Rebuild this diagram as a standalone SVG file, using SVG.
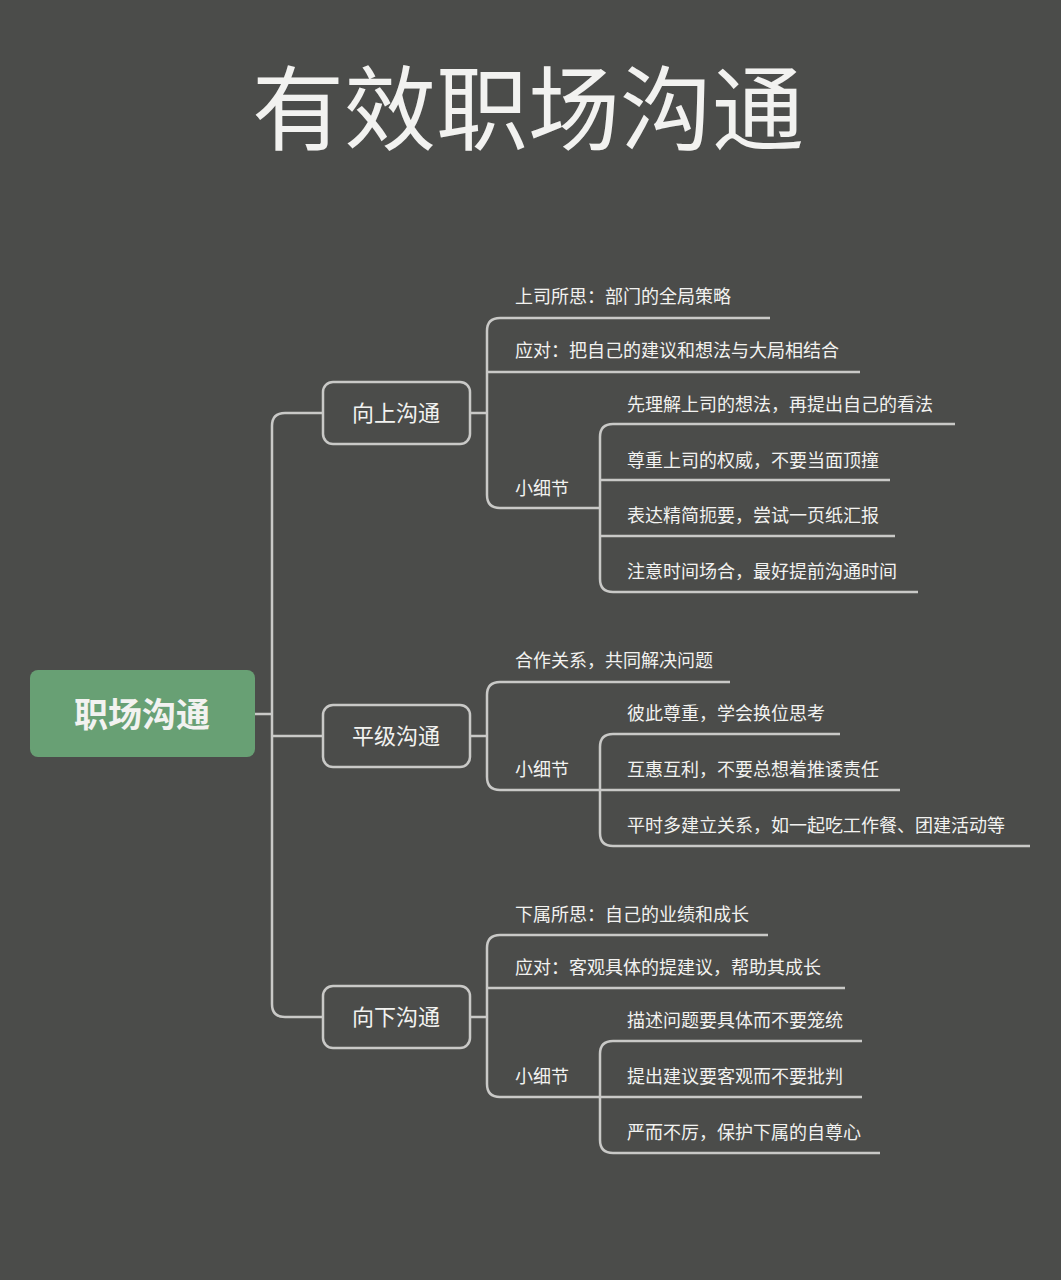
<svg xmlns="http://www.w3.org/2000/svg" width="1061" height="1280" viewBox="0 0 1061 1280">
<style>
.c{fill:none;stroke:#c9c9c7;stroke-width:2.5}
.t{font-family:"Noto Sans CJK SC",sans-serif;fill:#f2f2f0}
.l{font-size:18px}
.b{font-size:22px}
.br{fill:#4b4c4a;stroke:#c9c9c7;stroke-width:2.5}
</style>
<rect width="1061" height="1280" fill="#4b4c4a"/>
<text class="t" x="528" y="143" text-anchor="middle" font-size="92">有效职场沟通</text>
<g id="connectors" class="c">
<path d="M255 714H272M323 413H285Q272 413 272 426V1004Q272 1017 285 1017H323M272 736H323"/>
<path d="M470 413H487M770 318H500Q487 318 487 331V495Q487 508 500 508H600M487 372H860"/>
<path d="M955 424H613Q600 424 600 437V579Q600 592 613 592H918M600 480H890M600 536H895"/>
<path d="M470 736H487M730 682H500Q487 682 487 695V777Q487 790 500 790H600"/>
<path d="M840 734H613Q600 734 600 747V833Q600 846 613 846H1030M600 790H900"/>
<path d="M470 1017H487M768 935H500Q487 935 487 948V1084Q487 1097 500 1097H600M487 988H845"/>
<path d="M862 1041H613Q600 1041 600 1054V1140Q600 1153 613 1153H880M600 1097H862"/>
</g>
<g id="root"><rect x="30" y="670" width="225" height="87" rx="8" fill="#68a074"/><text class="t" x="142" y="727" text-anchor="middle" font-size="34" font-weight="bold">职场沟通</text></g>
<g id="up"><rect class="br" x="323" y="382" width="147" height="62" rx="10"/><text class="t b" x="396" y="421" text-anchor="middle">向上沟通</text></g>
<g id="peer"><rect class="br" x="323" y="705" width="147" height="62" rx="10"/><text class="t b" x="396" y="744" text-anchor="middle">平级沟通</text></g>
<g id="down"><rect class="br" x="323" y="986" width="147" height="62" rx="10"/><text class="t b" x="396" y="1025" text-anchor="middle">向下沟通</text></g>
<g id="leaves" class="t l">
<text x="515" y="303">上司所思：部门的全局策略</text>
<text x="515" y="357">应对：把自己的建议和想法与大局相结合</text>
<text x="515" y="495">小细节</text>
<text x="627" y="411">先理解上司的想法，再提出自己的看法</text>
<text x="627" y="467">尊重上司的权威，不要当面顶撞</text>
<text x="627" y="522">表达精简扼要，尝试一页纸汇报</text>
<text x="627" y="578">注意时间场合，最好提前沟通时间</text>
<text x="515" y="667">合作关系，共同解决问题</text>
<text x="515" y="776">小细节</text>
<text x="627" y="720">彼此尊重，学会换位思考</text>
<text x="627" y="776">互惠互利，不要总想着推诿责任</text>
<text x="627" y="832">平时多建立关系，如一起吃工作餐、团建活动等</text>
<text x="515" y="921">下属所思：自己的业绩和成长</text>
<text x="515" y="974">应对：客观具体的提建议，帮助其成长</text>
<text x="515" y="1083">小细节</text>
<text x="627" y="1027">描述问题要具体而不要笼统</text>
<text x="627" y="1083">提出建议要客观而不要批判</text>
<text x="627" y="1139">严而不厉，保护下属的自尊心</text>
</g>
</svg>
